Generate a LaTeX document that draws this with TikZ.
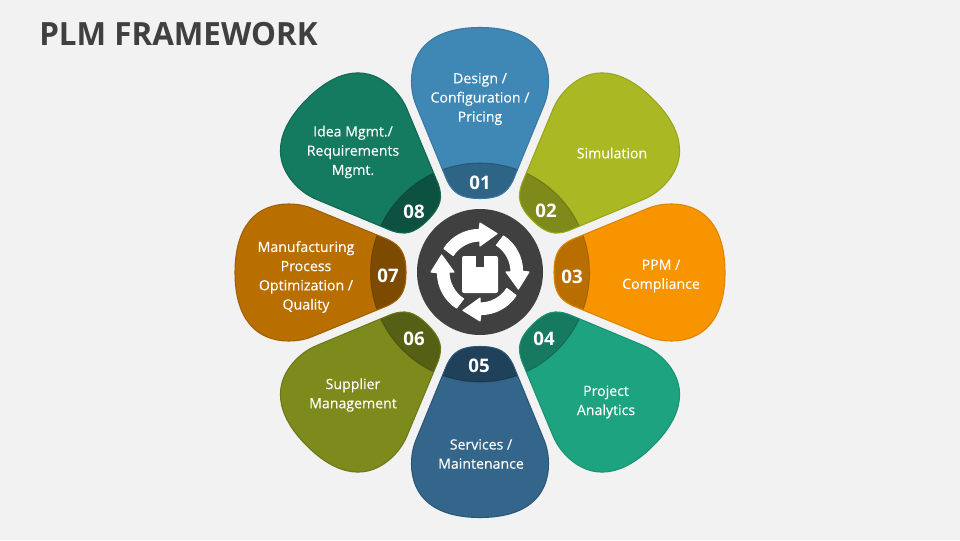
\documentclass[tikz,border=0pt]{standalone}
\usepackage{fontspec}
\setmainfont{Open Sans}
\definecolor{bggray}{HTML}{F2F2F2}
\definecolor{hubgray}{HTML}{404040}
\definecolor{blueA}{HTML}{3F88B5}\definecolor{blueB}{HTML}{2E6486}
\definecolor{limeA}{HTML}{A9B823}\definecolor{limeB}{HTML}{7E8A1A}
\definecolor{orngA}{HTML}{F79400}\definecolor{orngB}{HTML}{B96F00}
\definecolor{tealA}{HTML}{1DA380}\definecolor{tealB}{HTML}{157A60}
\definecolor{navyA}{HTML}{33668A}\definecolor{navyB}{HTML}{1F415A}
\definecolor{oliveA}{HTML}{7D8A1C}\definecolor{oliveB}{HTML}{566014}
\definecolor{brownA}{HTML}{B96E00}\definecolor{brownB}{HTML}{7D4B00}
\definecolor{greenA}{HTML}{147A60}\definecolor{greenB}{HTML}{0D5240}
\newcommand{\petalpath}{(0,245) .. controls (45,245) and (68.5,225) .. (68.5,191)
  .. controls (68.5,180) and (66,172) .. (63,165) -- (33,92)
  .. controls (27,80) and (20,74) .. (0,74)
  .. controls (-20,74) and (-27,80) .. (-33,92) -- (-63,165)
  .. controls (-66,172) and (-68.5,180) .. (-68.5,191)
  .. controls (-68.5,225) and (-45,245) .. (0,245) -- cycle}
\tikzset{
  label/.style={text=white,align=center,font=\fontsize{10.6}{14.4}\selectfont\addfontfeature{FakeBold=0.25}},
  number/.style={text=white,font=\fontsize{14}{16}\selectfont\bfseries},
}
\begin{document}
\begin{tikzpicture}[x=0.75pt,y=0.75pt]
  \fill[bggray] (0,0) rectangle (960,540);
  \useasboundingbox (0,0) rectangle (960,540);
  \node[anchor=west,text=hubgray,font=\fontsize{24}{28}\selectfont\bfseries\addfontfeature{FakeStretch=0.98},inner sep=0pt] (title) at (39,505.5) {PLM FRAMEWORK};
  % petals, clockwise from the top
  \foreach \ang/\colA/\colB in {90/blueA/blueB,45/limeA/limeB,0/orngA/orngB,-45/tealA/tealB,
      -90/navyA/navyB,-135/oliveA/oliveB,180/brownA/brownB,135/greenA/greenB} {
    \begin{scope}[shift={(480,267.5)},rotate=\ang-90]
      \fill[\colA] \petalpath;
      \begin{scope}
        \clip \petalpath;
        \fill[\colB] (0,0) circle (109.5);
        \draw[\colB!70!black,line width=0.8pt,opacity=0.5] (0,0) circle (109.5);
      \end{scope}
      \draw[\colA!60!\colB,line width=0.8pt] \petalpath;
    \end{scope}
  }
  % hub
  \fill[hubgray] (480,268) circle (63);
  \begin{scope}[shift={(480,268)}]
    \foreach \ang in {0,90,180,270} {
      \fill[white,rotate=\ang,draw=white,line width=0.8pt,line join=round] (147:43) arc (147:90:42) -- (90:49) -- (66:42)
        -- (90:26) -- (90:31) arc (90:147:32) -- cycle;
    }
    \fill[white,rounded corners=1.5pt] (-18,-21) rectangle (18,16);
    \fill[hubgray] (-4,16.5) rectangle (4,5);
  \end{scope}
  % labels
  \node[label] (design) at (480,441) {Design /\\Configuration /\\Pricing};
  \node[label] (simul) at (612,387) {Simulation};
  \node[label] (ppm) at (661,264) {PPM /\\Compliance};
  \node[label] (project) at (606,138) {Project\\Analytics};
  \node[label] (services) at (481,86) {Services /\\Maintenance};
  \node[label] (supplier) at (353,145) {Supplier\\Management};
  \node[label] (manuf) at (306,263) {Manufacturing\\Process\\Optimization /\\Quality};
  \node[label] (idea) at (353,388) {Idea Mgmt./\\Requirements\\Mgmt.};
  % numbers
  \node[number] (n1) at (480,357) {01};
  \node[number] (n2) at (546,329) {02};
  \node[number] (n3) at (572,263) {03};
  \node[number] (n4) at (544,201) {04};
  \node[number] (n5) at (479,174) {05};
  \node[number] (n6) at (414,201) {06};
  \node[number] (n7) at (388,264) {07};
  \node[number] (n8) at (414,328) {08};
\end{tikzpicture}
\end{document}
